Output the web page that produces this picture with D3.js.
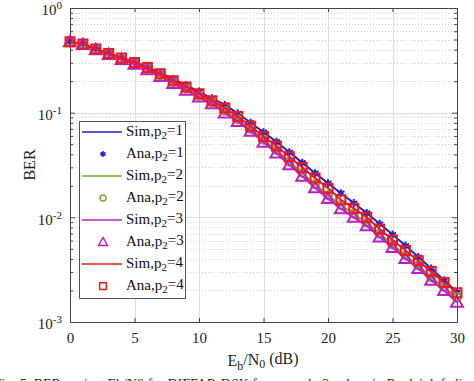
<!DOCTYPE html>
<html>
<head>
<meta charset="utf-8">
<script src="https://cdn.jsdelivr.net/npm/d3@7"></script>
<style>
  body { margin: 0; background: #fff; }
  svg { display: block; font-family: "Liberation Serif", "Times New Roman", serif; }
</style>
</head>
<body>
<svg id="chart" width="474" height="381"></svg>
<script>
// datos (BER vs Eb/N0)
var ebn0 = d3.range(0, 31);
var xTicks = [0, 5, 10, 15, 20, 25, 30];
var yTicks = [1e-3, 1e-2, 1e-1, 1];
var yTickExp = ["-3", "-2", "-1", "0"];

var berP1 = [0.476, 0.453, 0.407, 0.370, 0.335, 0.305, 0.274, 0.240, 0.209, 0.183, 0.159,
  0.137, 0.1186, 0.0986, 0.0802, 0.0650, 0.0528, 0.0419, 0.0333, 0.0264, 0.0212,
  0.0170, 0.0137, 0.0110, 0.00867, 0.00684, 0.00537, 0.00417, 0.00324, 0.00251, 0.00193];
var berP2 = [0.476, 0.450, 0.402, 0.363, 0.326, 0.294, 0.262, 0.227, 0.195, 0.169, 0.145,
  0.126, 0.104, 0.0865, 0.0697, 0.0552, 0.0437, 0.0339, 0.0265, 0.0207, 0.0163,
  0.0131, 0.0108, 0.0089, 0.00697, 0.00550, 0.00432, 0.00345, 0.00266, 0.00216, 0.00172];
var berP3 = [0.476, 0.449, 0.400, 0.360, 0.322, 0.290, 0.257, 0.222, 0.190, 0.164, 0.141,
  0.122, 0.0995, 0.0825, 0.0663, 0.0522, 0.0412, 0.0318, 0.0247, 0.0192, 0.0151,
  0.0121, 0.0100, 0.0083, 0.00650, 0.00515, 0.00405, 0.00325, 0.00250, 0.00200, 0.00154];
var berP4 = [0.476, 0.452, 0.405, 0.367, 0.332, 0.301, 0.270, 0.235, 0.202, 0.176, 0.152,
  0.130, 0.111, 0.0918, 0.0742, 0.0592, 0.0480, 0.0379, 0.0300, 0.0237, 0.0190,
  0.0147, 0.0122, 0.0100, 0.00775, 0.00608, 0.00481, 0.00384, 0.00303, 0.00238, 0.00190];

var series = [
  { p: "1", color: "#1f1fd6", marker: "star", values: berP1 },
  { p: "2", color: "#77ac30", marker: "circle", values: berP2 },
  { p: "3", color: "#bf1fbf", marker: "triangle", values: berP3 },
  { p: "4", color: "#f01818", marker: "square", values: berP4 }
];

var svg = d3.select("#chart");
var mLeft = 70, mRight = 457, mTop = 8, mBottom = 322;

var x = d3.scaleLinear().domain([0, 30]).range([mLeft, mRight]);
var y = d3.scaleLog().domain([1e-3, 1]).range([mBottom, mTop]);

// ---- grilla ----
var minors = [];
[1e-3, 1e-2, 1e-1].forEach(function (d) {
  for (var k = 2; k <= 9; k++) minors.push(d * k);
});
var grid = svg.append("g");
grid.selectAll(".gmin").data(minors).enter().append("line")
  .attr("x1", mLeft).attr("x2", mRight)
  .attr("y1", function (d) { return Math.round(y(d)) + 0.5; })
  .attr("y2", function (d) { return Math.round(y(d)) + 0.5; })
  .attr("stroke", "#cfcfcf").attr("stroke-dasharray", "1,2");
grid.selectAll(".gy").data(yTicks.slice(1, 3)).enter().append("line")
  .attr("x1", mLeft).attr("x2", mRight)
  .attr("y1", function (d) { return Math.round(y(d)) + 0.5; })
  .attr("y2", function (d) { return Math.round(y(d)) + 0.5; })
  .attr("stroke", "#dedede");
grid.selectAll(".gx").data(xTicks.slice(1, 6)).enter().append("line")
  .attr("y1", mTop).attr("y2", mBottom)
  .attr("x1", function (d) { return Math.round(x(d)) + 0.5; })
  .attr("x2", function (d) { return Math.round(x(d)) + 0.5; })
  .attr("stroke", "#dedede");

// ---- ejes ----
var axisColor = "#444";
var gx = svg.append("g").attr("transform", "translate(0," + mBottom + ")")
  .call(d3.axisBottom(x).tickValues(xTicks).tickSizeInner(-4).tickSizeOuter(0).tickPadding(10));
var gxTop = svg.append("g").attr("transform", "translate(0," + mTop + ")")
  .call(d3.axisTop(x).tickValues(xTicks).tickSizeInner(-4).tickSizeOuter(0).tickFormat(""));
var gy = svg.append("g").attr("transform", "translate(" + mLeft + ",0)")
  .call(d3.axisLeft(y).tickValues(yTicks).tickSizeInner(-5).tickSizeOuter(0).tickPadding(10).tickFormat(""));
var gyR = svg.append("g").attr("transform", "translate(" + mRight + ",0)")
  .call(d3.axisRight(y).tickValues(yTicks).tickSizeInner(-5).tickSizeOuter(0).tickFormat(""));
var gyMin = svg.append("g").attr("transform", "translate(" + mLeft + ",0)")
  .call(d3.axisLeft(y).tickValues(minors).tickSizeInner(-3).tickSizeOuter(0).tickFormat(""));
var gyMinR = svg.append("g").attr("transform", "translate(" + mRight + ",0)")
  .call(d3.axisRight(y).tickValues(minors).tickSizeInner(-3).tickSizeOuter(0).tickFormat(""));

[gx, gxTop, gy, gyR, gyMin, gyMinR].forEach(function (g) {
  g.select(".domain").attr("stroke", axisColor);
  g.selectAll(".tick line").attr("stroke", axisColor);
});
gyMin.select(".domain").remove();
gyMinR.select(".domain").remove();

gx.selectAll("text").attr("font-size", 15).attr("fill", "#222")
  .style("font-family", "Liberation Serif");

// etiquetas 10^k
gy.selectAll(".tick").each(function (d, i) {
  var t = d3.select(this).select("text");
  t.attr("font-size", 15).attr("fill", "#222").attr("x", -8).attr("dy", "0.45em")
    .style("font-family", "Liberation Serif");
  t.append("tspan").text("10");
  t.append("tspan").attr("dy", "-0.55em").attr("font-size", 11).text(yTickExp[i]);
});

// ---- lineas y marcadores ----
var line = d3.line()
  .x(function (d, i) { return x(ebn0[i]); })
  .y(function (d) { return y(d); });

var plot = svg.append("g");
series.forEach(function (s) {
  plot.append("path")
    .attr("d", line(s.values))
    .attr("fill", "none")
    .attr("stroke", s.color)
    .attr("stroke-width", 2);
  drawMarkers(plot, s, s.values.map(function (v, i) { return [x(ebn0[i]), y(v)]; }));
});

function markerPath(kind) {
  if (kind === "star") return d3.symbol(d3.symbolAsterisk, 45)();
  if (kind === "circle") return d3.symbol(d3.symbolCircle, 50)();
  if (kind === "triangle") return "M0,-6L6,4.5L-6,4.5Z";
  return "M-4.5,-4.5H4.5V4.5H-4.5Z";
}

function drawMarkers(g, s, pts) {
  g.selectAll(null).data(pts).enter().append("path")
    .attr("transform", function (d) { return "translate(" + d[0] + "," + d[1] + ")"; })
    .attr("d", markerPath(s.marker))
    .attr("fill", "none")
    .attr("stroke", s.color)
    .attr("stroke-width", 2);
}

// ---- leyenda ----
var lg = svg.append("g");
lg.append("rect")
  .attr("x", 79.5).attr("y", 121.5).attr("width", 106).attr("height", 177)
  .attr("fill", "#fff").attr("stroke", "#555");
series.forEach(function (s, i) {
  var yl = 132 + i * 44;
  lg.append("line").attr("x1", 82).attr("x2", 122).attr("y1", yl).attr("y2", yl)
    .attr("stroke", s.color).attr("stroke-width", 1.5);
  lg.append("path").attr("transform", "translate(103," + (yl + 22) + ") scale(0.75)")
    .attr("d", markerPath(s.marker)).attr("fill", "none")
    .attr("stroke", s.color).attr("stroke-width", 2);
  ["Sim", "Ana"].forEach(function (lab, j) {
    var t = lg.append("text").attr("x", 126).attr("y", yl + j * 22 + 4)
      .attr("font-size", 15).attr("fill", "#111");
    t.append("tspan").text(lab + ",p");
    t.append("tspan").attr("dy", "0.3em").attr("font-size", 11).text("2");
    t.append("tspan").attr("dy", "-0.3em").text("=" + s.p);
  });
});

// ---- titulos de ejes ----
svg.append("text")
  .attr("transform", "translate(35,165) rotate(-90)")
  .attr("text-anchor", "middle").attr("font-size", 16).attr("fill", "#222")
  .text("BER");

var xl = svg.append("text").attr("x", 263).attr("y", 366)
  .attr("text-anchor", "middle").attr("font-size", 16).attr("fill", "#222");
xl.append("tspan").text("E");
xl.append("tspan").attr("dy", "0.3em").attr("font-size", 12).text("b");
xl.append("tspan").attr("dy", "-0.3em").text("/N");
xl.append("tspan").attr("dy", "0.3em").attr("font-size", 12).text("0");
xl.append("tspan").attr("dy", "-0.3em").text(" (dB)");

// pie de figura (recortado)
svg.append("text").attr("x", -6).attr("y", 389).attr("font-size", 14).attr("fill", "#333")
  .text("Fig. 5. BER against Eb/N0 for DIFFAR-DSK for several p2 values in Rayleigh fading");
</script>
</body>
</html>
